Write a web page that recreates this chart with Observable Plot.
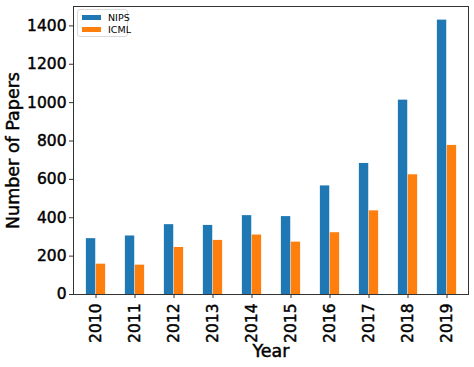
<!DOCTYPE html>
<html>
<head>
<meta charset="utf-8">
<script src="https://cdn.jsdelivr.net/npm/d3@7"></script>
<script src="https://cdn.jsdelivr.net/npm/@observablehq/plot@0.6"></script>
<style>
  html, body { margin: 0; padding: 0; background: #fff; }
  #wrap { position: relative; width: 474px; height: 367px; font-family: "DejaVu Sans", sans-serif; }
  #wrap svg text { stroke: #000; stroke-width: 0.45px; paint-order: stroke; }
  #legend { position: absolute; left: 77px; top: 9px; width: 51px; height: 28px; border: 1px solid #d9d9d9; border-radius: 3px; background: rgba(255,255,255,0.9); box-sizing: border-box; }
  .item { position: absolute; left: 4px; height: 10px; display: flex; align-items: center; font-size: 9.5px; color: #000; }
  .sw { width: 19px; height: 5px; margin-right: 7px; }
</style>
</head>
<body>
<div id="wrap"></div>
<script>
const years = ["2010","2011","2012","2013","2014","2015","2016","2017","2018","2019"];
const nips = [291, 305, 364, 360, 411, 406, 566, 683, 1013, 1430];
const icml = [158, 153, 245, 282, 310, 273, 322, 436, 624, 777];
const seriesNames = ["NIPS", "ICML"];
const seriesColors = ["#1f77b4", "#ff7f0e"];
const yTicks = [0, 200, 400, 600, 800, 1000, 1200, 1400];
const yLabel = "Number of Papers";
const xLabel = "Year";

const W = 474, H = 367, mL = 73, mR = 6, mT = 6, mB = 73;
const step = (W - mL - mR) / years.length;

const nipsRows = years.map((y, i) => ({year: y, value: nips[i]}));
const icmlRows = years.map((y, i) => ({year: y, value: icml[i]}));

const chart = Plot.plot({
  width: W, height: H,
  marginLeft: mL, marginRight: mR, marginTop: mT, marginBottom: mB,
  style: {fontFamily: "DejaVu Sans, sans-serif", fontSize: "15.5px", color: "#000", background: "#fff"},
  x: {type: "band", domain: years, padding: 0},
  y: {domain: [0, 1501]},
  marks: [
    Plot.barY(nipsRows, {x: "year", y: "value", fill: seriesColors[0], insetLeft: step * 0.25, insetRight: step * 0.5}),
    Plot.barY(icmlRows, {x: "year", y: "value", fill: seriesColors[1], insetLeft: step * 0.5, insetRight: step * 0.25}),
    Plot.frame({stroke: "#333", strokeWidth: 1}),
    Plot.axisY({ticks: yTicks, tickFormat: d => String(d), tickSize: 4, tickPadding: 3, label: null, fontSize: 15.5, stroke: "#333"}),
    Plot.axisX({tickRotate: -90, tickSize: 4, tickPadding: 5, label: null, fontSize: 15.5, stroke: "#333"}),
    Plot.text([yLabel], {frameAnchor: "left", textAnchor: "middle", lineAnchor: "middle", dx: -60, rotate: -90, fontSize: 17.5, fill: "#000"}),
    Plot.text([xLabel], {frameAnchor: "bottom", textAnchor: "middle", lineAnchor: "middle", dy: 57, fontSize: 17.5, fill: "#000"})
  ]
});

const wrap = document.getElementById("wrap");
wrap.appendChild(chart);
const legend = document.createElement("div");
legend.id = "legend";
seriesNames.forEach((name, i) => {
  const it = document.createElement("div");
  it.className = "item";
  it.style.top = (2 + i * 12) + "px";
  it.innerHTML = `<span class="sw" style="background:${seriesColors[i]}"></span><span>${name}</span>`;
  legend.appendChild(it);
});
wrap.appendChild(legend);
</script>
</body>
</html>
